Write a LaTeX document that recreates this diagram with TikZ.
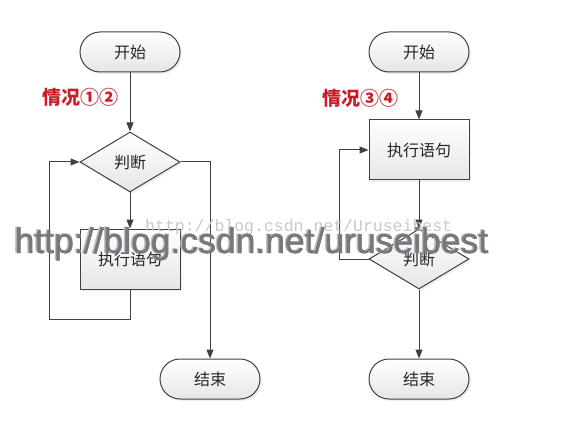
\documentclass[tikz,border=0pt]{standalone}
\usepackage{fontspec}
\newfontfamily\cjk{Noto Sans CJK SC}
\newfontfamily\wmsans[FakeBold=1.3]{Liberation Sans}
\newfontfamily\wmmono{Liberation Mono}
\usetikzlibrary{shapes.geometric,arrows.meta,shadows}
\definecolor{linec}{RGB}{64,64,64}
\definecolor{labred}{RGB}{200,30,40}
\definecolor{wmbig}{RGB}{120,120,120}
\definecolor{wmshadow}{RGB}{185,190,200}
\definecolor{wmsmall}{RGB}{200,200,200}
\tikzset{
 base/.style={draw=linec, line width=1pt, top color=white, bottom color=black!10,
   drop shadow={shadow xshift=2pt,shadow yshift=-2pt,opacity=0.12},
   font=\cjk\fontsize{16}{16}\selectfont, text=black!85, inner sep=0pt},
 term/.style={base, rectangle, rounded corners=20pt, minimum width=100pt, minimum height=40pt},
 proc/.style={base, rectangle, minimum width=100pt, minimum height=60pt},
 dec/.style={base, diamond, minimum width=100pt, minimum height=60pt},
 arr/.style={draw=linec, line width=1pt, -{Triangle[length=9pt,width=7pt]}},
 lab/.style={font=\cjk\bfseries\fontsize{19}{19}\selectfont, text=labred, anchor=west, inner sep=0pt},
}
\begin{document}
\begin{tikzpicture}[x=1pt,y=-1pt]
\useasboundingbox (0,0) rectangle (584,433);
\fill[white] (0,0) rectangle (584,433);
% left flow
\node[term] (s1) at (130,52) {开始};
\node[dec]  (d1) at (130,162) {判断};
\node[proc] (b1) at (130,259) {执行语句};
\node[term] (e1) at (210,379) {结束};
\node[lab] (l12) at (42,97) {情况①②};
\coordinate (c1) at (49,319);
\draw[arr] (s1.south) -- (d1.north);
\draw[arr] (d1.south) -- (b1.north);
\draw[arr] (b1.south) |- (c1) |- (d1.west);
\draw[arr] (d1.east) -| (e1.north);
% right flow
\node[term] (s2) at (419,52) {开始};
\node[proc] (b2) at (419,150) {执行语句};
\node[dec]  (d2) at (419,259) {判断};
\node[term] (e2) at (419,379) {结束};
\node[lab] (l34) at (322,98) {情况③④};
\coordinate (c2) at (339,259);
\draw[arr] (s2.south) -- (b2.north);
\draw[arr] (b2.south) -- (d2.north);
\draw[arr] (d2.west) -- (c2) |- (b2.west);
\draw[arr] (d2.south) -- (e2.north);
% watermarks
\node[anchor=base west, inner sep=0pt, font=\wmmono\fontsize{16.5}{16.5}\selectfont, text=wmsmall] (wm2) at (145,231) {http://blog.csdn.net/Uruseibest};
\node[anchor=base west, inner sep=0pt, font=\wmsans\fontsize{35.5}{35.5}\selectfont, text=wmshadow] (wm1s) at (13,252.5) {http://blog.csdn.net/uruseibest};
\node[anchor=base west, inner sep=0pt, font=\wmsans\fontsize{35.5}{35.5}\selectfont, text=wmbig] (wm1) at (14.5,253) {http://blog.csdn.net/uruseibest};
\end{tikzpicture}
\end{document}
